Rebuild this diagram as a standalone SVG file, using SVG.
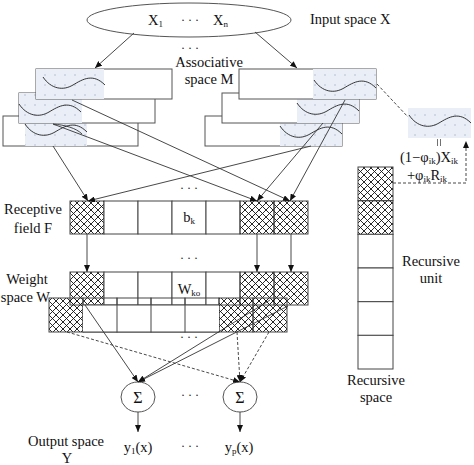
<svg xmlns="http://www.w3.org/2000/svg" width="474" height="465" viewBox="0 0 474 465" font-family="'Liberation Serif','Times New Roman','DejaVu Serif',serif">
<defs>
<pattern id="hatch" patternUnits="userSpaceOnUse" width="7" height="7">
<path d="M0,0 L7,7 M7,0 L0,7 M-1,6 L1,8 M6,-1 L8,1 M-1,1 L1,-1 M6,8 L8,6" stroke="#111" stroke-width="0.9" fill="none"/>
</pattern>
<pattern id="dots" patternUnits="userSpaceOnUse" width="10" height="10">
<rect width="10" height="10" fill="#e9eef7"/>
<circle cx="5" cy="5" r="0.7" fill="#a9b2c0"/>
</pattern>
<path id="wave" d="M0,0 C8,12 20,14 30,8 C40,2 50,-4 62,8" fill="none" stroke="#222" stroke-width="0.9"/>
<marker id="arr" markerUnits="userSpaceOnUse" markerWidth="8" markerHeight="6" refX="7" refY="3" orient="auto">
<path d="M0,0 L7,3 L0,6 z" fill="#111"/>
</marker>
</defs>
<style>
text{font-family:'Liberation Serif','Times New Roman','DejaVu Serif',serif;fill:#111}
.lbl{font-size:14.5px}
.box{fill:#fff;stroke:#555;stroke-width:1}
.sh{fill:url(#dots)}
.hc{fill:url(#hatch);stroke:#444;stroke-width:1}
.cell{fill:#fff;stroke:#444;stroke-width:1}
.con{stroke:#333;stroke-width:0.9;fill:none}
.dash{stroke:#333;stroke-width:0.9;fill:none;stroke-dasharray:3,2}
</style>

<g id="input-space">
<ellipse cx="189" cy="20" rx="102" ry="17" fill="#fff" stroke="#555" stroke-width="1"/>
<text x="148" y="25" font-size="14.5">X<tspan font-size="9" dy="2">1</tspan></text>
<text x="190" y="24" font-size="12" text-anchor="middle">· · ·</text>
<text x="213" y="25" font-size="14.5">X<tspan font-size="9" dy="2">n</tspan></text>
<text x="310" y="24" class="lbl">Input space X</text>
</g>

<g id="associative-label">
<text x="190" y="52" font-size="12" text-anchor="middle">· · ·</text>
<text x="209" y="67" class="lbl" text-anchor="middle">Associative</text>
<text x="209" y="84" class="lbl" text-anchor="middle">space M</text>
</g>

<g id="assoc-left">
<rect x="3" y="116" width="135" height="30" class="box"/>
<rect x="25" y="116" width="62" height="30" class="sh"/>
<use href="#wave" transform="translate(25,124)"/>
<path d="M53,124 C65,125 76,128 82,134" class="con"/>
<rect x="19" y="93" width="136" height="30" class="box"/>
<rect x="19" y="93" width="63" height="30" class="sh"/>
<use href="#wave" transform="translate(19,104)"/>
<rect x="36" y="69" width="136" height="30" class="box"/>
<rect x="36" y="69" width="68" height="30" class="sh"/>
<use href="#wave" transform="translate(43,77)"/>
</g>

<g id="assoc-right">
<rect x="205" y="116" width="137" height="30" class="box"/>
<rect x="280" y="116" width="62" height="30" class="sh"/>
<use href="#wave" transform="translate(280,126)"/>
<rect x="222" y="93" width="137" height="30" class="box"/>
<rect x="297" y="93" width="62" height="30" class="sh"/>
<use href="#wave" transform="translate(297,103)"/>
<rect x="239" y="69" width="137" height="30" class="box"/>
<rect x="313" y="69" width="63" height="30" class="sh"/>
<use href="#wave" transform="translate(314,80)"/>
</g>

<g id="recursive-patch">
<rect x="408" y="108" width="63" height="30" class="sh"/>
<use href="#wave" transform="translate(409,115)"/>
<path d="M437.5,139 L437.5,146 M440.5,139 L440.5,146" stroke="#333" stroke-width="0.7"/>
<text x="429" y="162" class="lbl" text-anchor="middle">(1−φ<tspan font-size="9" dy="2">ik</tspan><tspan dy="-2">)X</tspan><tspan font-size="9" dy="2">ik</tspan></text>
<text x="427" y="180" class="lbl" text-anchor="middle">+φ<tspan font-size="9" dy="2">ik</tspan><tspan dy="-2">R</tspan><tspan font-size="9" dy="2">ik</tspan></text>
</g>

<g id="receptive-field">
<rect x="70" y="201" width="34" height="33" class="hc"/>
<rect x="104" y="201" width="34" height="33" class="cell"/>
<rect x="138" y="201" width="34" height="33" class="cell"/>
<rect x="172" y="201" width="34" height="33" class="cell"/>
<rect x="206" y="201" width="34" height="33" class="cell"/>
<rect x="240" y="201" width="34" height="33" class="hc"/>
<rect x="274" y="201" width="34" height="33" class="hc"/>
<text x="189" y="222" class="lbl" text-anchor="middle">b<tspan font-size="9" dy="2">k</tspan></text>
<text x="189" y="192" font-size="12" text-anchor="middle">· · ·</text>
<text x="33" y="214" class="lbl" text-anchor="middle">Receptive</text>
<text x="33" y="233" class="lbl" text-anchor="middle">field F</text>
</g>

<g id="weight-space">
<rect x="70" y="272" width="34" height="33" class="hc"/>
<rect x="104" y="272" width="34" height="33" class="cell"/>
<rect x="138" y="272" width="34" height="33" class="cell"/>
<rect x="172" y="272" width="34" height="33" class="cell"/>
<rect x="206" y="272" width="34" height="33" class="cell"/>
<rect x="240" y="272" width="34" height="33" class="hc"/>
<rect x="274" y="272" width="34" height="33" class="hc"/>
<text x="189" y="294" class="lbl" text-anchor="middle">W<tspan font-size="9" dy="2">ko</tspan></text>
<rect x="49" y="298" width="34" height="34" class="hc"/>
<rect x="83" y="298" width="34" height="34" fill="none" stroke="#444"/>
<rect x="117" y="298" width="34" height="34" fill="none" stroke="#444"/>
<rect x="151" y="298" width="34" height="34" fill="none" stroke="#444"/>
<rect x="185" y="298" width="34" height="34" fill="none" stroke="#444"/>
<rect x="219" y="298" width="34" height="34" class="hc"/>
<rect x="253" y="298" width="34" height="34" class="hc"/>
<rect x="83" y="305" width="136" height="27" fill="#fff" stroke="none"/>
<path d="M83,305 L219,305 M117,305 L117,332 M151,305 L151,332 M185,305 L185,332 M83,332 L219,332" stroke="#444" fill="none"/>
<text x="189" y="262" font-size="12" text-anchor="middle">· · ·</text>
<text x="189" y="341" font-size="12" text-anchor="middle">· · ·</text>
<text x="27" y="284" class="lbl" text-anchor="middle">Weight</text>
<text x="50" y="302" class="lbl" text-anchor="end">space W</text>
</g>

<g id="recursive-space">
<rect x="358" y="167" width="35" height="33.7" class="hc"/>
<rect x="358" y="200.7" width="35" height="33.7" class="hc"/>
<rect x="358" y="234.3" width="35" height="33.7" class="cell"/>
<rect x="358" y="268" width="35" height="33.7" class="cell"/>
<rect x="358" y="301.7" width="35" height="33.7" class="cell"/>
<rect x="358" y="335.3" width="35" height="33.7" class="cell"/>
<text x="431" y="266" class="lbl" text-anchor="middle">Recursive</text>
<text x="431" y="283" class="lbl" text-anchor="middle">unit</text>
<text x="376" y="385" class="lbl" text-anchor="middle">Recursive</text>
<text x="376" y="402" class="lbl" text-anchor="middle">space</text>
</g>

<g id="sum-1">
<ellipse cx="138" cy="397" rx="17" ry="15" fill="#fff" stroke="#555"/>
<text x="138" y="403" font-size="16" text-anchor="middle">Σ</text>
</g>
<g id="sum-p">
<ellipse cx="240" cy="397" rx="17" ry="15" fill="#fff" stroke="#555"/>
<text x="240" y="403" font-size="16" text-anchor="middle">Σ</text>
</g>
<text x="190" y="399" font-size="12" text-anchor="middle">· · ·</text>

<g id="output-space">
<text x="138" y="452" class="lbl" text-anchor="middle">y<tspan font-size="9" dy="2">1</tspan><tspan dy="-2">(x)</tspan></text>
<text x="190" y="450" font-size="12" text-anchor="middle">· · ·</text>
<text x="239" y="452" class="lbl" text-anchor="middle">y<tspan font-size="9" dy="2">p</tspan><tspan dy="-2">(x)</tspan></text>
<text x="66" y="446" class="lbl" text-anchor="middle">Output space</text>
<text x="67" y="463" class="lbl" text-anchor="middle">Y</text>
</g>

<g id="connectors">
<line x1="134" y1="33" x2="95" y2="68" class="con" marker-end="url(#arr)"/>
<line x1="255" y1="32" x2="297" y2="68" class="con" marker-end="url(#arr)"/>
<line x1="377" y1="84" x2="408" y2="117" class="dash"/>
<polyline points="393,183 466,183 466,141" class="dash" marker-end="url(#arr)"/>
<line x1="53" y1="146" x2="88" y2="201" class="con" marker-end="url(#arr)"/>
<line x1="311" y1="146" x2="88" y2="201" class="con" marker-end="url(#arr)"/>
<line x1="53" y1="124" x2="257" y2="201" class="con" marker-end="url(#arr)"/>
<line x1="72" y1="100" x2="290" y2="201" class="con" marker-end="url(#arr)"/>
<line x1="323" y1="123" x2="257" y2="201" class="con" marker-end="url(#arr)"/>
<line x1="345" y1="100" x2="290" y2="201" class="con" marker-end="url(#arr)"/>
<line x1="87" y1="234" x2="87" y2="272" class="con" marker-end="url(#arr)"/>
<line x1="257" y1="234" x2="257" y2="272" class="con" marker-end="url(#arr)"/>
<line x1="291" y1="234" x2="291" y2="272" class="con" marker-end="url(#arr)"/>
<line x1="85" y1="305" x2="138" y2="382" class="con" marker-end="url(#arr)"/>
<line x1="288" y1="306" x2="138" y2="382" class="con" marker-end="url(#arr)"/>
<line x1="270" y1="300" x2="138" y2="382" class="con" marker-end="url(#arr)"/>
<line x1="67" y1="332" x2="240" y2="382" class="dash" marker-end="url(#arr)"/>
<line x1="237" y1="332" x2="240" y2="382" class="dash" marker-end="url(#arr)"/>
<line x1="269" y1="332" x2="240" y2="382" class="dash" marker-end="url(#arr)"/>
<line x1="138" y1="412" x2="138" y2="432" class="con" marker-end="url(#arr)"/>
<line x1="240" y1="412" x2="240" y2="432" class="con" marker-end="url(#arr)"/>
</g>
</svg>
